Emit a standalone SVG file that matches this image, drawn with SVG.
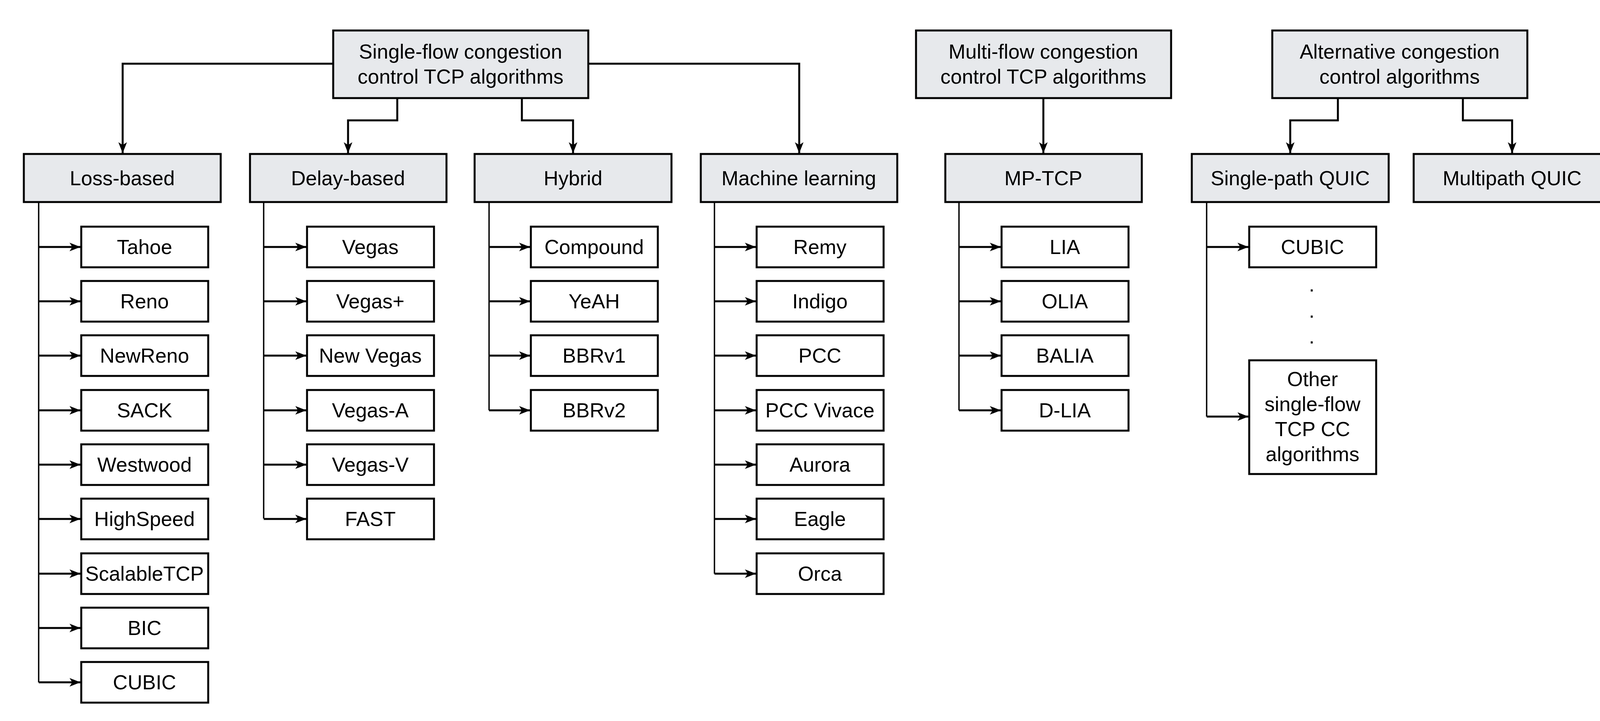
<svg xmlns="http://www.w3.org/2000/svg" width="4179" height="1845" viewBox="0 0 4179 1845">
<style>
.cat{fill:#e7e9ec;stroke:#000;stroke-width:5}
.leaf{fill:#fff;stroke:#000;stroke-width:5}
text{font-family:"Liberation Sans",Arial,sans-serif;font-size:52px;text-anchor:middle;dominant-baseline:central;fill:#000}
.c{fill:none;stroke:#000;stroke-width:5}
.t{fill:none;stroke:#000;stroke-width:3.5}
</style>
<defs>
<marker id="ah" markerUnits="userSpaceOnUse" markerWidth="30" markerHeight="30" viewBox="0 0 30 30" refX="28" refY="15" orient="auto">
<path d="M0,4 L28,15 L0,26 L7,15 Z" fill="#000"/>
</marker>
</defs>
<g id="connectors">
<path class="c" d="M853,163 H314 V392" marker-end="url(#ah)"/>
<path class="c" d="M1506,163 H2046 V392" marker-end="url(#ah)"/>
<path class="c" d="M1017,251 V308 H891 V392" marker-end="url(#ah)"/>
<path class="c" d="M1336,251 V308 H1467 V392" marker-end="url(#ah)"/>
<path class="c" d="M2671,251 V392" marker-end="url(#ah)"/>
<path class="c" d="M3425,251 V308 H3303 V392" marker-end="url(#ah)"/>
<path class="c" d="M3745,251 V308 H3871 V392" marker-end="url(#ah)"/>
<path class="t" d="M99,517 V1746"/>
<path class="t" d="M675,517 V1327"/>
<path class="t" d="M1252,517 V1050"/>
<path class="t" d="M1829,517 V1468"/>
<path class="t" d="M2455,517 V1050"/>
<path class="t" d="M3089,517 V1066"/>
<g class="c" marker-end="url(#ah)">
<path d="M99,632 H206"/><path d="M99,771 H206"/><path d="M99,910 H206"/><path d="M99,1050 H206"/><path d="M99,1189 H206"/><path d="M99,1328 H206"/><path d="M99,1468 H206"/><path d="M99,1607 H206"/><path d="M99,1746 H206"/>
<path d="M675,632 H784"/><path d="M675,771 H784"/><path d="M675,910 H784"/><path d="M675,1050 H784"/><path d="M675,1189 H784"/><path d="M675,1328 H784"/>
<path d="M1252,632 H1357"/><path d="M1252,771 H1357"/><path d="M1252,910 H1357"/><path d="M1252,1050 H1357"/>
<path d="M1829,632 H1935"/><path d="M1829,771 H1935"/><path d="M1829,910 H1935"/><path d="M1829,1050 H1935"/><path d="M1829,1189 H1935"/><path d="M1829,1328 H1935"/><path d="M1829,1468 H1935"/>
<path d="M2455,632 H2562"/><path d="M2455,771 H2562"/><path d="M2455,910 H2562"/><path d="M2455,1050 H2562"/>
<path d="M3089,632 H3196"/><path d="M3089,1066 H3196"/>
</g>
</g>
<g id="root"><rect class="cat" x="853" y="78" width="653" height="173"/><text x="1179" y="132">Single-flow congestion</text><text x="1179" y="196">control TCP algorithms</text></g>
<g id="multi"><rect class="cat" x="2345" y="78" width="653" height="173"/><text x="2671" y="132">Multi-flow congestion</text><text x="2671" y="196">control TCP algorithms</text></g>
<g id="alt"><rect class="cat" x="3257" y="78" width="653" height="173"/><text x="3583" y="132">Alternative congestion</text><text x="3583" y="196">control algorithms</text></g>
<g id="loss"><rect class="cat" x="61" y="394" width="504" height="123"/><text x="313" y="456">Loss-based</text></g>
<g id="delay"><rect class="cat" x="640" y="394" width="503" height="123"/><text x="891" y="456">Delay-based</text></g>
<g id="hybrid"><rect class="cat" x="1215" y="394" width="504" height="123"/><text x="1467" y="456">Hybrid</text></g>
<g id="ml"><rect class="cat" x="1794" y="394" width="503" height="123"/><text x="2045" y="456">Machine learning</text></g>
<g id="mptcp"><rect class="cat" x="2420" y="394" width="503" height="123"/><text x="2671" y="456">MP-TCP</text></g>
<g id="spquic"><rect class="cat" x="3051" y="394" width="504" height="123"/><text x="3303" y="456">Single-path QUIC</text></g>
<g id="mpquic"><rect class="cat" x="3619" y="394" width="504" height="123"/><text x="3871" y="456">Multipath QUIC</text></g>
<g id="tahoe"><rect class="leaf" x="208" y="580" width="325" height="104"/><text x="370" y="632">Tahoe</text></g>
<g id="reno"><rect class="leaf" x="208" y="719" width="325" height="104"/><text x="370" y="771">Reno</text></g>
<g id="newreno"><rect class="leaf" x="208" y="858" width="325" height="104"/><text x="370" y="910">NewReno</text></g>
<g id="sack"><rect class="leaf" x="208" y="998" width="325" height="104"/><text x="370" y="1050">SACK</text></g>
<g id="westwood"><rect class="leaf" x="208" y="1137" width="325" height="104"/><text x="370" y="1189">Westwood</text></g>
<g id="highspeed"><rect class="leaf" x="208" y="1276" width="325" height="104"/><text x="370" y="1328">HighSpeed</text></g>
<g id="scalable"><rect class="leaf" x="208" y="1416" width="325" height="104"/><text x="370" y="1468">ScalableTCP</text></g>
<g id="bic"><rect class="leaf" x="208" y="1555" width="325" height="104"/><text x="370" y="1607">BIC</text></g>
<g id="cubic1"><rect class="leaf" x="208" y="1694" width="325" height="104"/><text x="370" y="1746">CUBIC</text></g>
<g id="vegas"><rect class="leaf" x="786" y="580" width="325" height="104"/><text x="948" y="632">Vegas</text></g>
<g id="vegasplus"><rect class="leaf" x="786" y="719" width="325" height="104"/><text x="948" y="771">Vegas+</text></g>
<g id="newvegas"><rect class="leaf" x="786" y="858" width="325" height="104"/><text x="948" y="910">New Vegas</text></g>
<g id="vegasa"><rect class="leaf" x="786" y="998" width="325" height="104"/><text x="948" y="1050">Vegas-A</text></g>
<g id="vegasv"><rect class="leaf" x="786" y="1137" width="325" height="104"/><text x="948" y="1189">Vegas-V</text></g>
<g id="fast"><rect class="leaf" x="786" y="1276" width="325" height="104"/><text x="948" y="1328">FAST</text></g>
<g id="compound"><rect class="leaf" x="1359" y="580" width="325" height="104"/><text x="1521" y="632">Compound</text></g>
<g id="yeah"><rect class="leaf" x="1359" y="719" width="325" height="104"/><text x="1521" y="771">YeAH</text></g>
<g id="bbrv1"><rect class="leaf" x="1359" y="858" width="325" height="104"/><text x="1521" y="910">BBRv1</text></g>
<g id="bbrv2"><rect class="leaf" x="1359" y="998" width="325" height="104"/><text x="1521" y="1050">BBRv2</text></g>
<g id="remy"><rect class="leaf" x="1937" y="580" width="325" height="104"/><text x="2099" y="632">Remy</text></g>
<g id="indigo"><rect class="leaf" x="1937" y="719" width="325" height="104"/><text x="2099" y="771">Indigo</text></g>
<g id="pcc"><rect class="leaf" x="1937" y="858" width="325" height="104"/><text x="2099" y="910">PCC</text></g>
<g id="pccvivace"><rect class="leaf" x="1937" y="998" width="325" height="104"/><text x="2099" y="1050">PCC Vivace</text></g>
<g id="aurora"><rect class="leaf" x="1937" y="1137" width="325" height="104"/><text x="2099" y="1189">Aurora</text></g>
<g id="eagle"><rect class="leaf" x="1937" y="1276" width="325" height="104"/><text x="2099" y="1328">Eagle</text></g>
<g id="orca"><rect class="leaf" x="1937" y="1416" width="325" height="104"/><text x="2099" y="1468">Orca</text></g>
<g id="lia"><rect class="leaf" x="2564" y="580" width="325" height="104"/><text x="2726" y="632">LIA</text></g>
<g id="olia"><rect class="leaf" x="2564" y="719" width="325" height="104"/><text x="2726" y="771">OLIA</text></g>
<g id="balia"><rect class="leaf" x="2564" y="858" width="325" height="104"/><text x="2726" y="910">BALIA</text></g>
<g id="dlia"><rect class="leaf" x="2564" y="998" width="325" height="104"/><text x="2726" y="1050">D-LIA</text></g>
<g id="cubic2"><rect class="leaf" x="3198" y="580" width="325" height="104"/><text x="3360" y="632">CUBIC</text></g>
<g id="dots"><text x="3358" y="728">.</text><text x="3358" y="795">.</text><text x="3358" y="861">.</text></g>
<g id="other"><rect class="leaf" x="3198" y="922" width="325" height="291"/><text x="3360" y="970">Other</text><text x="3360" y="1034">single-flow</text><text x="3360" y="1098">TCP CC</text><text x="3360" y="1162">algorithms</text></g>
</svg>
